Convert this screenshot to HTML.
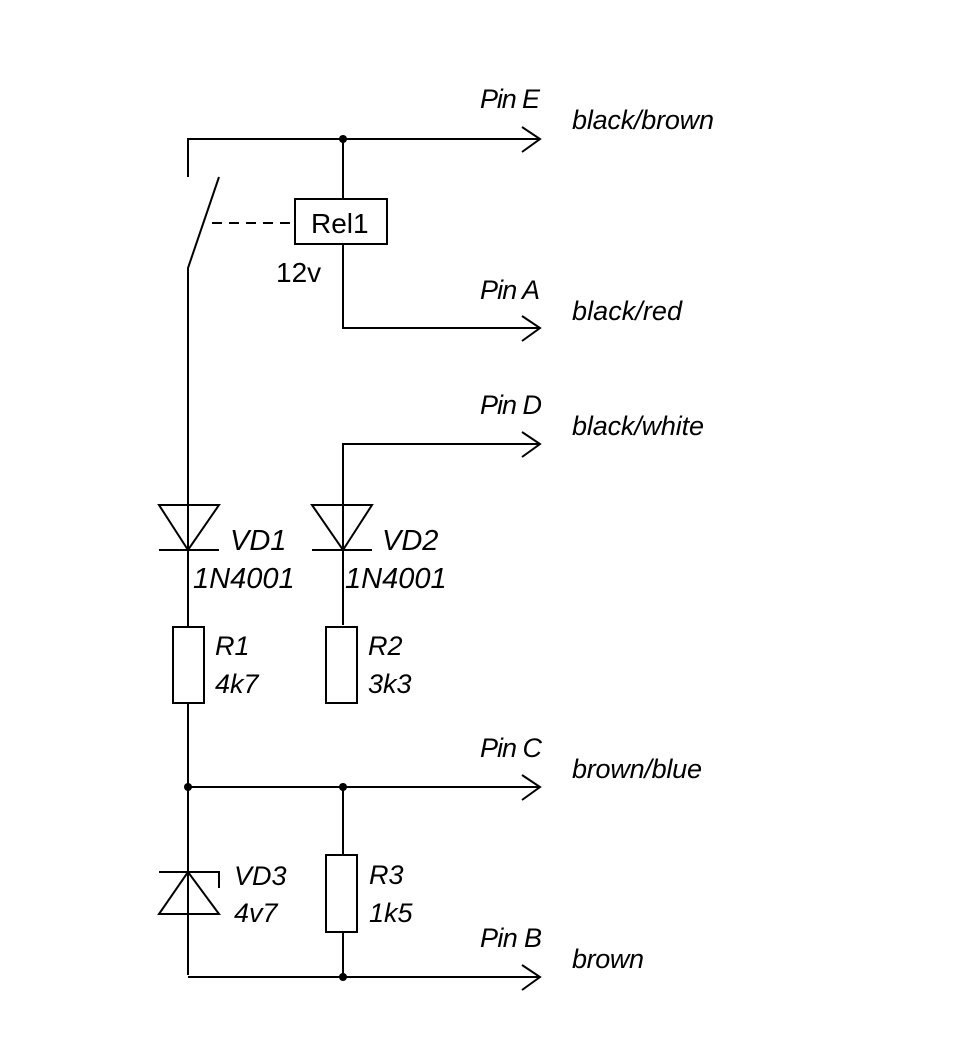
<!DOCTYPE html>
<html><head><meta charset="utf-8"><style>html,body{margin:0;background:#fff}</style></head>
<body>
<svg width="960" height="1057" viewBox="0 0 960 1057" xmlns="http://www.w3.org/2000/svg" font-family="Liberation Sans, sans-serif">
<g stroke="#000" stroke-width="2" fill="none">
<path d="M188 177 V139 H540"/>
<path d="M522 127 L540 139 L522 152"/>
<path d="M219 177 L188 268 V975"/>
<path d="M212 223 H295" stroke-dasharray="10,7"/>
<rect x="295" y="199" width="92" height="45" fill="#fff"/>
<path d="M343 139 V199 M343 244 V328 H540"/>
<path d="M522 316 L540 328 L522 341"/>
<path d="M343 625 V444 H540"/>
<path d="M522 432 L540 444 L522 457"/>
<path d="M188 787 H540"/>
<path d="M522 775 L540 787 L522 800"/>
<path d="M188 977 H540"/>
<path d="M522 965 L540 977 L522 990"/>
<path d="M343 787 V977"/>
<path d="M159 505 H219 L188 550 Z M159 550 H219"/>
<path d="M312 505 H372 L343 550 Z M312 550 H372"/>
<rect x="173" y="627" width="31" height="76" fill="#fff"/>
<rect x="326" y="627" width="31" height="76" fill="#fff"/>
<rect x="326" y="855" width="31" height="77" fill="#fff"/>
<path d="M159 872 H219 V888 M188 872 L159 914 H219 Z"/>
</g>
<g fill="#000">
<circle cx="343" cy="139" r="4"/>
<circle cx="188" cy="787" r="4"/>
<circle cx="343" cy="787" r="4"/>
<circle cx="343" cy="977" r="4"/>
</g>
<g font-size="28">
<text x="311" y="233">Rel1</text>
<text x="276" y="282">12v</text>
</g>
<g font-size="27" font-style="italic">
<text x="480" y="108" textLength="60">Pin E</text>
<text x="572" y="129" textLength="142">black/brown</text>
<text x="480" y="299" textLength="60">Pin A</text>
<text x="572" y="320" textLength="110">black/red</text>
<text x="480" y="414" textLength="62">Pin D</text>
<text x="572" y="435" textLength="132">black/white</text>
<text x="480" y="757" textLength="62">Pin C</text>
<text x="572" y="778" textLength="130">brown/blue</text>
<text x="480" y="947" textLength="62">Pin B</text>
<text x="572" y="968" textLength="72">brown</text>
<text x="230" y="550" font-size="29">VD1</text>
<text x="193" y="588" font-size="29">1N4001</text>
<text x="382" y="550" font-size="29">VD2</text>
<text x="345" y="588" font-size="29">1N4001</text>
<text x="215" y="655">R1</text>
<text x="215" y="693">4k7</text>
<text x="368" y="655">R2</text>
<text x="368" y="693">3k3</text>
<text x="234" y="885">VD3</text>
<text x="234" y="922">4v7</text>
<text x="369" y="884">R3</text>
<text x="369" y="922">1k5</text>
</g>
</svg>
</body></html>
